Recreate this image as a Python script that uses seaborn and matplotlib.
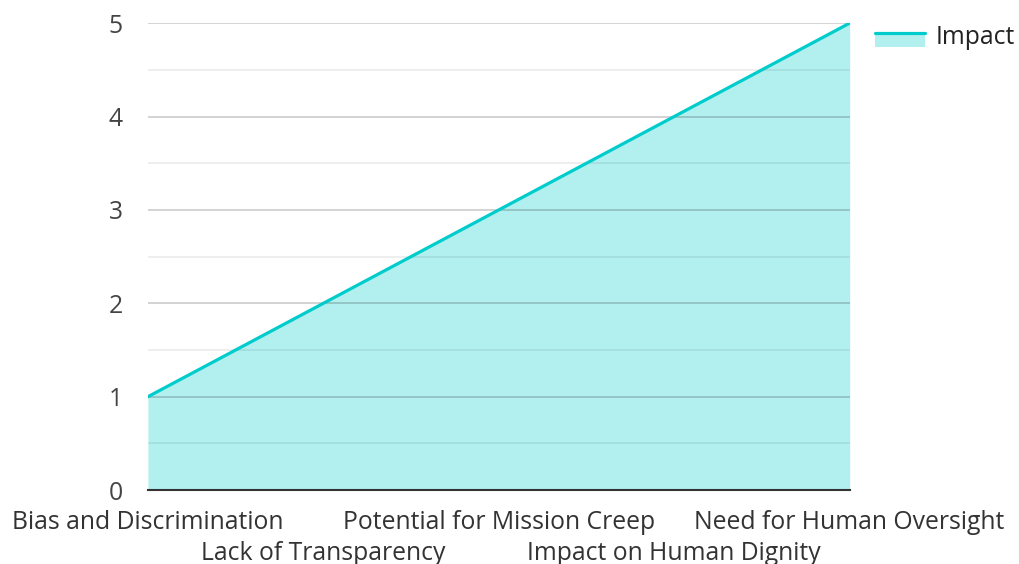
import matplotlib
matplotlib.use('Agg')
import matplotlib.pyplot as plt
import seaborn as sns
import pandas as pd
from matplotlib.legend_handler import HandlerBase
from matplotlib.patches import Rectangle
from matplotlib.lines import Line2D

categories = ['Bias and Discrimination', 'Lack of Transparency', 'Potential for Mission Creep',
              'Impact on Human Dignity', 'Need for Human Oversight']
impact = [1, 2, 3, 4, 5]
y_ticks = [0, 1, 2, 3, 4, 5]

LINE = '#00cccc'
FS = 17.8
df = pd.DataFrame({'pos': range(len(categories)), 'Impact': impact})

sns.set_style('white')
plt.rcParams['font.family'] = ['Open Sans', 'DejaVu Sans']

fig = plt.figure(figsize=(10.2, 5.64), dpi=100)
ax = fig.add_axes([0.145, 0.131, 0.688, 0.828])

# area under the line, then the line itself
ax.fill_between(df['pos'], 0, df['Impact'], color=LINE, alpha=0.3, linewidth=0, zorder=1)
sns.lineplot(data=df, x='pos', y='Impact', color=LINE, linewidth=2.3, ax=ax, zorder=3)

ax.set_xlim(0, len(categories) - 1)
ax.set_ylim(0, 5)
ax.set_yticks(y_ticks)
ax.set_yticks([0.5, 1.5, 2.5, 3.5, 4.5], minor=True)
ax.grid(True, which='major', axis='y', color='black', alpha=0.2, linewidth=1.2, zorder=2)
ax.grid(True, which='minor', axis='y', color='black', alpha=0.08, linewidth=1.2, zorder=2)
ax.set_axisbelow(False)

ax.set_xticks(df['pos'])
ax.set_xticklabels(categories)
ax.tick_params(axis='both', which='both', length=0, labelsize=FS, labelcolor='#333333')
ax.tick_params(axis='y', pad=18, labelcolor='#444444')
for i, t in enumerate(ax.xaxis.get_major_ticks()):
    t.set_pad(14.0 if i % 2 == 0 else 36.3)
ax.set_xlabel('')
ax.set_ylabel('')

for s in ['top', 'right', 'left']:
    ax.spines[s].set_visible(False)
ax.spines['bottom'].set_color('#333333')
ax.spines['bottom'].set_linewidth(1.5)
ax.spines['bottom'].set_zorder(4)


class AreaHandler(HandlerBase):
    def create_artists(self, legend, orig, xd, yd, w, h, fontsize, trans):
        off = -3
        r = Rectangle((-xd, -yd + off), w, h, facecolor=LINE, alpha=0.3, linewidth=0,
                      transform=trans)
        y_line = -yd + off + h * 0.9
        l = Line2D([-xd, -xd + w], [y_line, y_line], color=LINE, linewidth=2.3, transform=trans)
        return [r, l]


handle = Rectangle((0, 0), 1, 1)
fig.legend([handle], ['Impact'], handler_map={Rectangle: AreaHandler()},
           loc='center left', bbox_to_anchor=(0.858, 0.934), frameon=False, fontsize=FS,
           borderpad=0, borderaxespad=0, handlelength=2.03, handleheight=0.57,
           handletextpad=0.4, labelcolor='#222222')

plt.savefig('out.png', dpi=100)
plt.close()
